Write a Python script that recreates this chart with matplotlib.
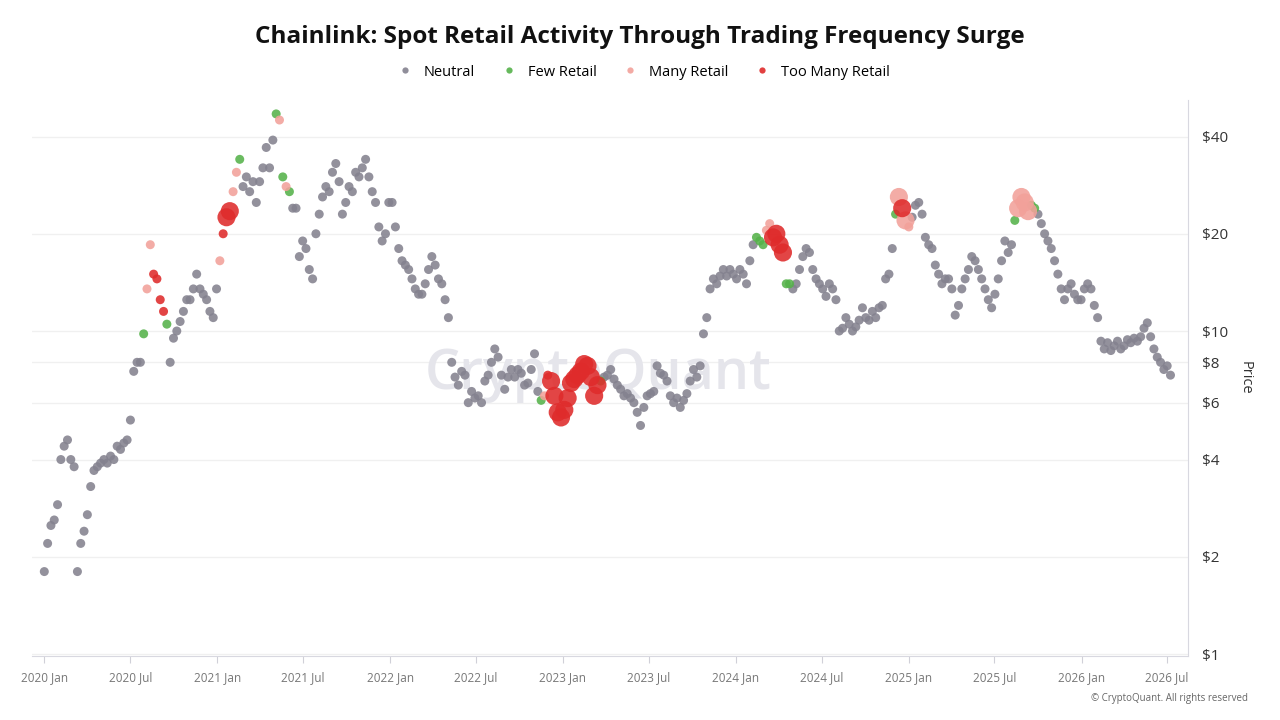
import numpy as np
import pandas as pd
import matplotlib
matplotlib.use("Agg")
import matplotlib.pyplot as plt
import matplotlib.dates as mdates
from matplotlib.lines import Line2D
from matplotlib.ticker import FixedLocator, NullLocator

plt.rcParams['font.family'] = ['Open Sans', 'DejaVu Sans']

# Weekly LINK price (USD), first sample on 2020-01-01
START_DATE = "2020-01-01"

price_2020 = [1.8, 2.2, 2.5, 2.6, 2.9, 4.0, 4.4, 4.6, 4.0, 3.8,
              1.8, 2.2, 2.4, 2.7, 3.3, 3.7, 3.8, 3.9, 4.0, 3.9,
              4.1, 4.0, 4.4, 4.3, 4.5, 4.6, 5.3, 7.5, 8.0, 8.0,
              9.8, 13.5, 18.5, 15.0, 14.5, 12.5, 11.5, 10.5, 8.0, 9.5,
              10.0, 10.7, 11.5, 12.5, 12.5, 13.5, 15.0, 13.5, 13.0, 12.5,
              11.5, 11.0, 13.5]
price_2021 = [16.5, 20.0, 22.5, 23.5, 27.0, 31.0, 34.0, 28.0, 30.0, 27.0,
              29.0, 25.0, 29.0, 32.0, 37.0, 32.0, 39.0, 47.0, 45.0, 30.0,
              28.0, 27.0, 24.0, 24.0, 17.0, 19.0, 18.0, 15.5, 14.5, 20.0,
              23.0, 26.0, 28.0, 27.0, 31.0, 33.0, 29.0, 23.0, 25.0, 28.0,
              27.0, 31.0, 30.0, 32.0, 34.0, 30.0, 27.0, 25.0, 21.0, 19.0,
              20.0, 25.0]
price_2022 = [25.0, 21.0, 18.0, 16.5, 16.0, 15.5, 14.5, 13.5, 13.0, 13.0,
              14.0, 15.5, 17.0, 16.0, 14.5, 14.0, 12.5, 11.0, 8.0, 7.2,
              6.8, 7.5, 7.3, 6.0, 6.5, 6.2, 6.3, 6.0, 7.0, 7.3,
              8.0, 8.8, 8.3, 7.3, 6.6, 7.2, 7.6, 7.2, 7.6, 7.4,
              6.8, 6.9, 7.6, 8.5, 6.5, 6.1, 6.3, 7.3, 7.0, 6.3,
              5.6, 5.4]
price_2023 = [5.7, 6.2, 6.9, 7.1, 7.3, 7.5, 7.9, 7.8, 7.2, 6.3,
              6.8, 7.0, 7.2, 7.3, 7.6, 7.1, 6.8, 6.6, 6.3, 6.4,
              6.2, 6.0, 5.6, 5.1, 5.8, 6.3, 6.4, 6.5, 7.8, 7.4,
              7.3, 7.0, 6.3, 6.0, 6.2, 5.8, 6.1, 6.4, 7.0, 7.6,
              7.2, 7.8, 9.8, 11.0, 13.5, 14.5, 14.0, 14.8, 15.5, 14.8,
              15.5, 15.0]
price_2024 = [14.5, 15.5, 15.0, 14.0, 16.5, 18.5, 19.5, 19.0, 18.5, 20.5,
              21.5, 19.5, 20.0, 18.5, 17.5, 14.0, 14.0, 13.5, 14.0, 15.5,
              17.0, 18.0, 17.5, 15.5, 14.5, 14.0, 13.5, 12.8, 14.0, 13.5,
              12.5, 10.0, 10.2, 11.0, 10.5, 10.0, 10.3, 10.8, 11.8, 11.0,
              10.8, 11.5, 11.0, 11.8, 12.0, 14.5, 15.0, 18.0, 23.0, 26.0,
              24.0, 22.0]
price_2025 = [21.0, 22.5, 24.5, 25.0, 23.0, 19.5, 18.5, 18.0, 16.0, 15.0,
              14.0, 14.5, 14.5, 13.5, 11.2, 12.0, 13.5, 14.5, 15.5, 17.0,
              16.5, 15.5, 14.5, 13.5, 12.5, 11.8, 13.0, 14.5, 16.5, 19.0,
              17.5, 18.5, 22.0, 24.0, 26.0, 25.0, 23.5, 24.5, 24.0, 23.0,
              21.5, 20.0, 19.0, 18.0, 16.5, 15.0, 13.5, 12.5, 13.5, 14.0,
              13.0, 12.5, 12.5]
price_2026 = [13.5, 14.0, 13.5, 12.0, 11.0, 9.3, 8.8, 9.2, 8.7, 9.0,
              9.3, 8.8, 9.0, 9.4, 9.2, 9.5, 9.3, 9.6, 10.2, 10.6,
              9.6, 8.8, 8.3, 8.0, 7.6, 7.8, 7.3]

# Retail activity per week: n = neutral, f = few, m = many, t = too many
# (upper case = strong surge)
retail_2020 = "n" * 30 + "fmmttttf" + "n" * 15
retail_2021 = "mtTTmmf" + "n" * 10 + "fmfmf" + "n" * 30
retail_2022 = "n" * 45 + "fmtTTTT"
retail_2023 = "T" * 11 + "f" + "n" * 40
retail_2024 = "n" * 6 + "fff" + "mm" + "TTTT" + "ff" + "n" * 31 + "fMTM"
retail_2025 = "m" + "n" * 31 + "f" + "MMMM" + "ff" + "n" * 14
retail_2026 = "n" * 27

CATEGORIES = ["Neutral", "Few Retail", "Many Retail", "Too Many Retail"]
CODES = ["n", "f", "m", "t"]
COLORS = ["#84828f", "#55b24a", "#f2a19a", "#df2b2b"]

prices = np.array(price_2020 + price_2021 + price_2022 + price_2023
                  + price_2024 + price_2025 + price_2026)
retail = list(retail_2020 + retail_2021 + retail_2022 + retail_2023
              + retail_2024 + retail_2025 + retail_2026)
dates = pd.date_range(START_DATE, periods=len(prices), freq="7D")
codes = np.array([c.lower() for c in retail])
strong = np.array([c.isupper() for c in retail])

fig = plt.figure(figsize=(12.8, 7.2), dpi=100)
ax = fig.add_axes([32 / 1280, 1 - 656 / 720, (1188 - 32) / 1280, (656 - 100) / 720])

for code, color in zip(CODES, COLORS):
    sel = codes == code
    sizes = np.where(strong[sel], 170, 42)
    ax.scatter(dates[sel], prices[sel], s=sizes, color=color, alpha=0.88,
               linewidths=0, zorder=3)

ax.set_yscale("log")
ax.set_ylim(0.986, 51.9)
ax.set_xlim(pd.Timestamp("2019-12-06"), pd.Timestamp("2026-08-14"))

yticks = [1, 2, 4, 6, 8, 10, 20, 40]
ax.yaxis.set_major_locator(FixedLocator(yticks))
ax.yaxis.set_minor_locator(NullLocator())
ax.set_yticklabels([f"${v}" for v in yticks])
ax.yaxis.tick_right()
ax.yaxis.set_label_position("right")
ax.tick_params(axis="y", length=0, pad=10, labelsize=11, labelcolor="#333333")
ax.set_ylabel("Price", rotation=270, labelpad=18, fontsize=10.5, color="#333333")

ax.xaxis.set_major_locator(mdates.MonthLocator(bymonth=[1, 7]))
ax.xaxis.set_major_formatter(mdates.DateFormatter("%Y %b"))
ax.tick_params(axis="x", length=5, color="#d0d0d8", labelsize=8.5,
               labelcolor="#777777", pad=6)

ax.grid(axis="y", color="#f0f0f0", linewidth=1)
ax.set_axisbelow(True)
for side in ["top", "left"]:
    ax.spines[side].set_visible(False)
ax.spines["bottom"].set_color("#d8d8e0")
ax.spines["right"].set_color("#d8d8e0")

ax.text(0.49, 0.505, "CryptoQuant", transform=ax.transAxes, fontsize=40,
        fontweight="semibold", color="#e5e5eb", ha="center", va="center", zorder=1)

fig.text(0.5, 1 - 37 / 720, "Chainlink: Spot Retail Activity Through Trading Frequency Surge",
         ha="center", va="center", fontsize=17.5, fontweight="bold", color="#111111")

handles = [Line2D([], [], marker="o", linestyle="", markersize=4.5,
                  markerfacecolor=c, markeredgewidth=0, alpha=0.9) for c in COLORS]
fig.legend(handles, CATEGORIES, loc="center", bbox_to_anchor=(0.5, 1 - 72 / 720),
           ncol=4, frameon=False, fontsize=10.5, handletextpad=0.3, columnspacing=1.3)

fig.text(1248 / 1280, 1 - 698 / 720, "© CryptoQuant. All rights reserved",
         ha="right", va="center", fontsize=7, color="#666666")

fig.savefig("out.png", dpi=100)
